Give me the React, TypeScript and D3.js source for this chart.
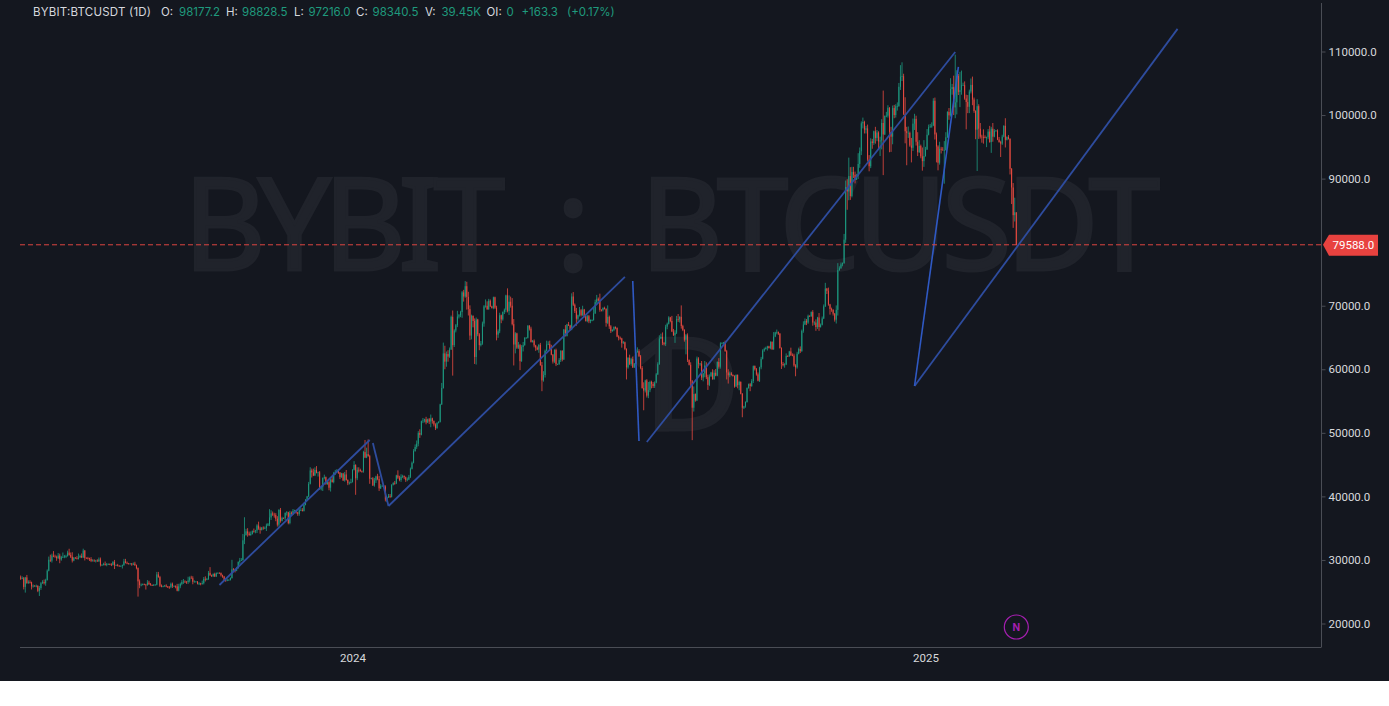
import React, { useEffect, useRef } from 'react';
import * as d3 from 'd3';

// BTCUSDT daily closes in thousands, one row per month, first row starts 3 Jun 2023
const firstOpen = 27.25;
const closes = [
  [27.07,27.12,25.76,27.24,26.35,26.5,26.48,25.85,25.94,25.9,25.92,25.13,25.59,26.34,26.51,26.34,26.84,28.31,30.03,29.89,30.69,30.53,30.47,30.27,30.69,30.08,30.44,30.47],
  [30.59,30.62,31.16,30.77,30.51,29.9,30.35,30.29,30.17,30.41,30.62,30.39,31.47,30.32,30.29,30.25,30.14,29.86,29.91,29.8,29.91,29.79,30.08,29.18,29.23,29.35,29.21,29.32,29.36,29.28,29.23],
  [29.7,29.17,29.18,29.08,29.05,29.05,29.18,29.77,29.56,29.43,29.4,29.42,29.28,29.41,29.17,28.72,26.63,26.05,26.1,26.19,26.12,26.04,26.43,26.17,26.05,26.0,26.09,26.1,27.72,27.3,25.94],
  [25.8,25.87,25.97,25.81,25.78,25.75,26.24,25.9,25.9,25.84,25.16,25.85,26.22,26.53,26.6,26.57,26.53,26.76,27.21,27.13,26.57,26.58,26.58,26.25,26.3,26.21,26.35,27.02,26.91,26.97],
  [27.97,27.59,27.43,27.79,27.41,27.93,27.96,27.93,27.59,27.39,26.87,26.76,26.86,26.86,27.16,28.52,28.41,28.33,28.72,29.68,29.92,29.99,33.09,33.92,34.5,34.16,33.91,34.09,34.54,34.49,34.64],
  [35.42,34.94,34.73,35.08,35.05,35.05,35.42,35.62,36.69,37.32,37.13,37.06,36.49,35.55,37.88,36.16,36.6,36.58,37.39,37.48,35.81,37.42,37.29,37.72,37.8,37.48,37.25,37.83,37.85,37.72],
  [38.69,39.47,39.98,41.98,44.08,43.77,43.29,44.17,43.72,43.79,41.24,41.45,42.89,43.02,41.93,42.24,41.36,42.66,42.26,43.66,43.87,43.99,43.74,43.02,43.61,42.52,43.45,42.58,42.07,42.14,42.28],
  [44.18,44.95,42.85,44.18,44.16,43.97,43.93,46.97,46.12,46.66,46.34,42.78,42.84,41.73,42.51,43.15,42.74,41.26,41.62,41.67,41.55,39.51,39.85,40.08,39.93,41.82,42.12,42.03,43.3,42.94,42.58],
  [43.08,43.2,43.01,42.58,42.66,43.08,44.34,45.29,47.13,47.77,48.29,49.96,49.7,51.83,51.94,52.12,51.64,52.14,51.78,52.28,51.85,51.3,50.74,51.57,51.73,54.48,57.05,62.5,61.2],
  [62.4,61.99,63.13,68.25,63.8,66.1,66.93,68.3,68.5,69.0,72.1,71.45,73.07,71.39,69.46,65.3,68.39,67.6,61.94,67.84,65.5,63.8,64.05,67.2,69.9,69.99,69.45,70.78,69.9,69.65,71.33],
  [69.7,65.45,65.98,68.5,67.85,69.0,69.36,71.63,69.15,70.63,70.0,67.1,63.9,65.65,63.4,63.8,61.27,63.5,63.8,64.95,64.95,66.85,66.4,64.3,64.5,63.75,63.4,63.1,63.85,60.65],
  [58.25,59.1,62.9,63.9,64.0,63.15,62.3,61.2,63.05,60.8,60.8,61.45,62.9,61.55,66.25,65.25,67.05,66.9,66.25,71.45,70.15,69.15,67.95,68.5,69.3,68.5,69.4,68.35,67.6,68.35,67.55],
  [67.75,67.75,68.8,70.55,71.1,70.8,69.35,69.3,69.65,69.5,67.3,68.25,66.75,66.0,66.2,66.65,66.5,65.15,64.95,64.85,64.1,64.25,63.2,60.3,61.8,60.85,61.6,60.3,60.9,62.7],
  [62.85,62.05,60.2,57.05,56.65,58.25,55.85,56.7,58.0,57.7,57.35,57.9,59.2,60.8,64.85,65.1,64.1,63.95,66.7,67.15,68.15,67.6,65.95,65.35,65.75,67.9,67.85,68.25,66.8,66.2,64.65],
  [65.35,61.45,60.7,58.1,53.95,56.1,55.1,61.7,60.85,60.9,58.7,59.35,60.6,58.75,57.55,58.9,59.5,58.45,59.45,59.0,61.15,60.4,64.05,64.15,64.2,62.85,59.5,59.05,59.35,59.1,58.95],
  [57.3,59.1,57.5,58.0,56.15,53.95,54.15,54.85,57.05,57.65,57.35,58.15,60.5,60.0,59.2,58.2,60.3,61.65,62.95,63.2,63.35,63.6,63.35,64.3,63.15,65.15,65.8,65.85,65.6,63.35],
  [60.85,60.65,60.75,62.1,62.05,62.8,62.2,62.15,60.6,60.3,62.45,63.2,62.85,66.05,67.05,67.6,67.35,68.4,68.35,69.0,67.35,67.35,66.65,68.15,66.65,67.0,68.0,69.9,72.7,72.35,70.2],
  [69.5,69.35,68.75,67.8,69.35,75.6,75.9,76.5,76.7,80.4,88.7,88.0,90.4,87.25,91.05,90.6,89.85,90.45,92.3,94.3,98.7,98.9,97.7,97.9,93.0,91.95,95.85,95.6,97.45,96.4],
  [97.25,95.85,96.0,98.75,96.95,99.85,99.9,101.15,97.35,96.6,101.1,100.0,101.4,101.4,104.45,106.05,106.1,100.2,97.45,97.2,97.2,95.2,94.85,98.65,99.4,95.8,94.15,95.15,93.5,92.75,93.55],
  [94.6,96.9,98.1,98.2,98.35,102.25,96.95,95.05,92.5,94.7,94.55,94.5,94.5,96.5,100.5,99.95,104.1,104.4,101.2,102.0,106.15,103.65,103.9,104.7,104.7,102.6,102.05,101.3,103.7,104.75,102.45],
  [100.65,97.7,101.4,97.85,96.6,96.55,96.5,96.45,96.5,97.4,95.75,97.85,96.6,97.5,97.55,96.15,95.75,95.5,96.6,98.3,96.1,96.55,96.25,91.55,88.6,84.25,84.7,79.588],
];

// how far each high reaches above the candle body, thousands
const upperWicks = [
  [.3,.3,.2,.1,.4,.3,.3,.1,.2,.1,.2,.1,.3,.2,.3,.4,.2,.2,.5,.8,.3,.7,.3,.2,.4,.3,.2,.7],
  [.2,.2,.3,.6,.4,.7,.1,.1,.3,.6,.2,.4,.3,.1,.1,.2,.1,.3,.2,.2,.1,.2,.3,.3,.1,.2,.4,.2,.1,.1,.2],
  [.1,.3,.1,.2,.1,.1,.1,.4,.4,.2,.1,.1,.1,.2,.3,.1,.1,.3,.2,.1,.1,.1,.4,.3,.2,.1,.1,.1,.4,.4,.2],
  [.2,.1,.1,.2,.1,.1,.2,.2,.1,.1,.4,.4,.2,.3,.4,.2,.1,.6,.2,.3,.3,.2,.1,.1,.2,.1,.4,.3,.4,.2],
  [.3,.9,.1,.1,.2,.1,.1,.1,.1,.1,.1,.1,.2,.1,.1,1.5,.2,.2,.2,.1,.4,.3,1.0,2.8,.4,.5,.3,.4,.1,.4,.1],
  [.2,.6,.3,.1,.2,.2,.3,.2,1.3,.5,.3,.3,.3,.4,.1,.3,.2,.1,.1,.2,.1,.3,.2,.3,.1,.1,.1,.2,.3,.3],
  [.3,.1,.1,.3,.5,.3,.6,.4,.6,.1,.2,.2,.1,.4,.1,.2,.3,.1,.5,.2,.3,.3,.3,.1,.1,.1,.4,.7,.1,.2,.5],
  [.1,.6,.1,.4,.4,.2,.1,.2,1.9,1.0,2.3,.2,.1,.2,.4,.1,.4,.5,.3,.1,.1,.2,.1,.3,.3,.1,.1,.3,.1,.8,.3],
  [.4,.2,.1,.1,.3,.3,.2,.2,.3,.4,.5,.3,.6,.1,.4,.1,.4,.1,.2,.6,.1,.1,.2,.1,.1,.1,.8,1.7,1.2],
  [.4,.6,.3,.2,1.0,.2,.2,.9,.2,.2,.2,.4,.8,.7,.8,.6,.2,.1,.4,.3,.1,.2,.4,.3,.2,1.0,.7,.3,.2,.1,.1],
  [.1,.3,.3,.4,.1,.1,.2,.1,1.1,1.0,.8,1.2,.8,.2,.1,.5,.2,.3,.5,.1,.1,.1,.1,.3,.1,.2,.1,.2,.1,.3],
  [.5,.6,.2,.6,.4,.5,.7,.1,.1,.2,.1,.3,.1,.1,.1,.7,.1,.4,.1,.5,.7,.2,.5,.1,.5,.2,.6,.1,.1,.2,.2],
  [.1,.1,.9,.4,.6,.2,1.1,.1,.1,.2,.1,1.8,.2,.2,.1,.1,.1,.1,.2,.2,.1,.2,.1,.1,.1,.5,.2,.4,.1,.4],
  [.6,.3,.2,.3,.9,.1,.2,1.3,.2,.2,.3,.2,.2,.3,.5,.5,.7,.2,.3,.2,.2,.1,.8,.4,.4,.5,.8,.1,1.8,.2,.1],
  [.2,.3,.1,.4,.2,1.2,.1,.3,.2,.1,.4,.1,.7,.5,.4,.3,.1,.5,.4,.6,.1,.6,.2,.1,.1,.3,.2,.5,.3,.2,.1],
  [.1,.1,.1,.2,.1,.1,.1,.1,.1,.1,.2,.3,.1,.1,.2,.3,.1,.3,.2,.2,.2,.1,.1,.1,.1,.7,.1,.4,.1,.1],
  [.1,.3,.2,.4,.1,.1,.6,.3,.3,.2,.3,.2,.4,.2,.5,.4,.3,.2,.1,.1,.3,.2,.5,.1,.7,.2,.3,.3,.9,.1,.5],
  [.1,.2,.1,.1,.7,1.1,.3,.3,.1,.9,1.0,1.2,2.9,1.4,.8,.8,.5,.3,1.7,.6,.3,.7,.2,.4,.6,.7,.5,.4,.1,.7],
  [.4,.2,.6,.6,5.1,.1,.6,.4,.1,.8,.4,.5,.3,.6,.6,1.8,2.2,.4,2.6,.7,1.0,.2,1.2,.8,.8,.5,1.5,.9,.2,1.4,2.5],
  [.4,.9,.4,.4,.5,.4,.5,.3,.2,1.1,.3,.4,1.4,.8,.1,.6,1.7,.5,1.8,7.5,.9,.3,2.9,2.3,.4,.6,.6,1.1,.3,1.0,1.3],
  [.3,.1,1.1,.3,.9,.3,1.2,.3,.1,.4,.9,.3,.9,.3,.1,.2,.4,.2,.3,.1,1.2,.1,.3,.1,.1,.7,2.3,0],
];

// how far each low reaches below the candle body, thousands
const lowerWicks = [
  [.2,.1,.4,.9,.1,.1,.2,.5,.2,.1,.2,.2,.8,.3,.1,.2,.4,.1,.1,.2,.3,.1,.1,.4,.1,.6,.2,.1],
  [.2,.3,.1,.1,.2,.3,.1,.1,.1,.1,.1,.1,.1,.4,.1,.2,.3,.2,.1,.1,.2,.1,.1,.2,.1,.1,.1,.2,.1,.1,.2],
  [.1,.6,.1,.1,.1,.1,.4,.1,.1,.1,.1,.1,.2,.1,.1,.2,2.4,.5,.2,.1,.1,.7,.1,.1,.1,.1,.1,.1,.1,.1,.2],
  [.1,.1,.1,.1,.2,.3,.2,.3,.1,.3,.1,.1,.3,.2,.3,.2,.3,.3,.3,.1,.4,.1,.1,.1,.2,.2,.1,.2,.3,.1],
  [.1,.1,.1,.1,.1,.1,.1,.1,.2,.2,.2,.2,.1,.1,.1,.1,.2,.3,.1,.1,.3,.1,.1,.6,.1,.5,.1,.1,.1,.2,.3],
  [.4,.2,.6,.1,.3,.2,.5,.1,.3,.4,.2,.4,.4,.3,.3,.3,.1,.1,.3,.4,.2,.2,.2,.2,.1,.2,.3,.3,.1,.1],
  [.1,.1,.1,.1,.1,.8,.1,.1,.1,.6,.2,.3,.6,.2,.1,.1,.4,.6,.1,.2,.3,.2,.2,.3,.1,.1,.2,.1,.3,.2,.1],
  [.1,.1,2.6,.3,.4,.1,.2,.2,.1,.1,.1,.8,.1,.1,.2,.4,.2,.4,.1,.1,.1,.3,.4,.1,.2,.1,.1,.2,.1,.2,.2],
  [.3,.2,.3,.3,.2,.1,.2,.1,.1,.1,.3,.4,.5,.1,.3,.3,.3,.1,.4,.9,.4,.3,.3,.1,.1,.1,.1,.1,1.2],
  [.8,.8,.2,.1,4.8,.3,.3,.3,.3,.3,.9,.8,.2,2.0,1.0,.7,.6,1.0,1.1,1.2,.3,.8,.2,.2,.5,.2,.1,.1,.1,.1,.2],
  [.2,.9,.5,.3,.6,.2,.3,.4,.2,.6,.3,.2,3.3,1.4,.2,.2,1.4,.1,.7,.1,.1,.1,.3,.1,.1,.3,.5,.1,.5,.1],
  [1.7,.2,.4,.1,.1,.2,.1,.3,.2,.3,.1,.1,.3,.3,.1,.1,.1,.1,.2,.1,.2,.3,1.1,.3,.2,.2,.1,.2,.1,.2,.3],
  [.3,.2,.1,.1,.2,.1,.3,.2,.2,.1,.6,.2,.4,.3,.1,.2,.2,.1,.4,.2,.7,.1,.2,1.9,.2,.2,.3,.1,.1,.1],
  [.1,.1,.2,.1,3.1,.3,.3,.4,.3,.7,.3,.3,.1,.1,.1,.1,.3,.2,.3,.4,.1,.2,.1,.1,1.2,.2,.4,.5,.4,.2,.3],
  [2.3,.3,.1,.9,5.1,.6,.2,.1,.7,.3,.4,.6,.6,.3,.8,.2,.1,.1,.1,.1,.1,.3,.3,.1,.5,.1,1.1,1.3,.3,.1,.1],
  [.2,.1,.5,.8,.1,1.5,.2,.2,.1,.1,.8,.1,.3,.2,.2,.1,.2,.3,.1,.2,.1,.4,.1,.2,.1,.1,.1,.3,.2,.1],
  [.8,.2,.4,.1,.1,.1,.1,.1,.2,1.4,.2,.1,.3,.1,.3,.1,.4,.2,.1,.1,.5,.4,.6,.3,.6,.1,.1,.1,.1,.5,.2],
  [.9,.3,.3,.3,.6,.9,.1,.1,.3,.1,.5,2.9,1.4,.6,.2,.5,.6,.1,.5,.6,.6,.8,.6,.6,.3,.8,.3,.9,.3,.9],
  [.5,1.3,2.3,1.4,6.4,.1,.2,.3,3.2,2.4,1.2,.5,.4,.7,.1,.5,.7,.2,1.9,5.1,.8,.2,2.3,.5,1.0,.6,.6,.1,.3,1.5,.9],
  [.1,.1,.1,.1,.2,.1,.8,2.5,1.2,.3,.6,.1,5.3,.1,.1,.7,.2,.9,1.2,1.7,1.9,.5,2.4,.7,.1,.2,4.3,1.0,1.0,.3,.9],
  [.3,1.5,6.5,1.6,.3,.9,1.0,.1,1.5,.3,.1,1.7,.8,.1,.1,.1,.1,2.1,.2,.1,1.2,.1,.1,.9,2.6,2.0,1.0,0],
];

// drawn trend lines as [start date, start price, end date, end price]
const trendLines: [string, number, string, number][] = [
  ['2023-10-08', 26058, '2024-01-12', 48875],
  ['2024-01-14', 48400, '2024-01-24', 38490],
  ['2024-01-24', 38490, '2024-06-23', 74525],
  ['2024-07-07', 48560, '2025-01-20', 109930],
  ['2024-12-25', 57370, '2025-06-11', 113560],
];
const brightLines: [string, number, string, number][] = [
  ['2024-06-28', 73900, '2024-07-02', 48720],
  ['2025-01-22', 107570, '2024-12-25', 57370],
];

// 80000 sits under the last price tag in the original, so it has no label
const priceTicks = [20000, 30000, 40000, 50000, 60000, 70000, 90000, 100000, 110000];
const yearTicks = [new Date(Date.UTC(2024, 0, 1)), new Date(Date.UTC(2025, 0, 1))];
const lastPrice = 79588;
const eventDate = '2025-02-28';

const legendLabels = ['BYBIT:BTCUSDT (1D)', 'O:', 'H:', 'L:', 'C:', 'V:', 'OI:'];
const legendValues = ['98177.2', '98828.5', '97216.0', '98340.5', '39.45K', '0', '+163.3', '(+0.17%)'];
const legendLabelX = [33, 161, 226, 294, 356, 425, 486.5];
const legendValueX = [179, 242, 308.5, 372.5, 441.5, 506.5, 521.5, 567];

const WIDTH = 1389;
const HEIGHT = 706;
const BG = '#14171f';
const UP = '#1d9a80';
const DOWN = '#e84a40';

const x = d3.scaleUtc().domain(yearTicks).range([352.5, 925.5]);
const y = d3.scaleLinear().domain([20000, 110000]).range([623.5, 51.5]);

const start = new Date(Date.UTC(2023, 5, 3));

export default function App() {
  const svgRef = useRef<SVGSVGElement | null>(null);

  useEffect(() => {
    if (!svgRef.current) return;
    const svg = d3.select(svgRef.current);
    svg.selectAll('*').remove();

    svg.append('rect').attr('width', WIDTH).attr('height', 681).attr('fill', BG);

    // watermark behind the candles, the stroke thickens the letters
    const mark = svg.append('g')
      .attr('fill', '#20232b').attr('stroke', '#20232b').attr('stroke-width', 3)
      .attr('font-family', '"Noto Sans"').attr('font-size', 128);
    const markText = mark.append('text').attr('y', 270);
    markText.append('tspan').attr('x', 183).attr('textLength', 322).text('BYBIT');
    markText.append('tspan').attr('x', 556).text(':');
    markText.append('tspan').attr('x', 640).attr('textLength', 520).text('BTCUSDT');
    mark.append('text').attr('x', 622).attr('y', 430).attr('textLength', 118).text('1D');

    // frame and axes
    const axisColor = '#4a4d55';
    svg.append('line').attr('x1', 1321.5).attr('x2', 1321.5).attr('y1', 3).attr('y2', 647).attr('stroke', axisColor);
    svg.append('line').attr('x1', 20).attr('x2', 1321.5).attr('y1', 647.5).attr('y2', 647.5).attr('stroke', axisColor);

    const yAxis = svg.append('g').attr('transform', 'translate(1321.5,0)').call(
      d3.axisRight(y).tickValues(priceTicks).tickSize(4).tickPadding(3).tickFormat((d) => Number(d).toFixed(1))
    );
    const xAxis = svg.append('g').attr('transform', 'translate(0,647.5)').call(
      d3.axisBottom(x).tickValues(yearTicks).tickSize(0).tickPadding(6).tickFormat((d) => String((d as Date).getUTCFullYear()))
    );
    for (const axis of [yAxis, xAxis]) {
      axis.select('.domain').remove();
      axis.selectAll('line').attr('stroke', axisColor);
      axis.selectAll('text').attr('fill', '#d8d9dc').attr('font-family', 'Roboto').attr('font-size', 11.5);
    }

    // candles, each open is the previous close
    const flatClose = closes.flat();
    const flatUpper = upperWicks.flat();
    const flatLower = lowerWicks.flat();
    const candles = flatClose.map((c, i) => {
      const o = i === 0 ? firstOpen : flatClose[i - 1];
      return {
        date: d3.utcDay.offset(start, i),
        open: o * 1000,
        close: c * 1000,
        high: (Math.max(o, c) + flatUpper[i]) * 1000,
        low: (Math.min(o, c) - flatLower[i]) * 1000,
      };
    });
    const color = (d: { open: number; close: number }) => (d.close >= d.open ? UP : DOWN);
    const candleG = svg.append('g');
    candleG.selectAll('line').data(candles).join('line')
      .attr('x1', (d) => x(d.date)).attr('x2', (d) => x(d.date))
      .attr('y1', (d) => y(d.high)).attr('y2', (d) => y(d.low))
      .attr('stroke', color).attr('stroke-width', 0.8);
    candleG.selectAll('rect').data(candles).join('rect')
      .attr('x', (d) => x(d.date) - 0.5).attr('width', 1)
      .attr('y', (d) => y(Math.max(d.open, d.close)))
      .attr('height', (d) => Math.max(0.7, Math.abs(y(d.open) - y(d.close))))
      .attr('fill', color);

    // hand drawn lines
    const parse = (s: string) => new Date(s + 'T00:00:00Z');
    const drawLines = (rows: [string, number, string, number][], stroke: string, w: number) => {
      svg.append('g').selectAll('line').data(rows).join('line')
        .attr('x1', (d) => x(parse(d[0]))).attr('y1', (d) => y(d[1]))
        .attr('x2', (d) => x(parse(d[2]))).attr('y2', (d) => y(d[3]))
        .attr('stroke', stroke).attr('stroke-width', w);
    };
    drawLines(trendLines, '#2e4c9e', 1.8);
    drawLines(brightLines, '#2f59c4', 1.6);

    // last price line and tag
    const py = y(lastPrice);
    svg.append('line').attr('x1', 20).attr('x2', 1321).attr('y1', py).attr('y2', py)
      .attr('stroke', '#dc4540').attr('stroke-dasharray', '5 3');
    svg.append('path')
      .attr('d', `M1323,${py}L1329,${py - 10}H1378V${py + 11}H1329Z`)
      .attr('fill', '#e8423f');
    svg.append('text').attr('x', 1332.5).attr('y', py).attr('dy', '0.36em')
      .attr('fill', '#fff').attr('font-family', 'Roboto').attr('font-size', 11.5).text(lastPrice.toFixed(1));

    // news marker
    const ex = x(parse(eventDate));
    svg.append('circle').attr('cx', ex).attr('cy', 627).attr('r', 12)
      .attr('fill', 'none').attr('stroke', '#a51fb0').attr('stroke-width', 1.2);
    svg.append('text').attr('x', ex).attr('y', 627).attr('dy', '0.36em').attr('text-anchor', 'middle')
      .attr('fill', '#a51fb0').attr('font-family', 'Inter').attr('font-weight', 700).attr('font-size', 10).text('N');

    // legend row
    const legend = svg.append('g').attr('font-family', 'Inter').attr('font-size', 11.5);
    legendLabels.forEach((t, i) => {
      const label = legend.append('text').attr('x', legendLabelX[i]).attr('y', 16).attr('fill', '#d6d8de').text(t);
      if (i === 0) label.attr('textLength', 118);
    });
    legendValues.forEach((t, i) => {
      legend.append('text').attr('x', legendValueX[i]).attr('y', 16).attr('fill', '#1f9a7d').text(t);
    });
  }, []);

  return (
    <svg
      ref={svgRef}
      width={WIDTH}
      height={HEIGHT}
      style={{ position: 'absolute', left: 0, top: 0, display: 'block' }}
    />
  );
}
